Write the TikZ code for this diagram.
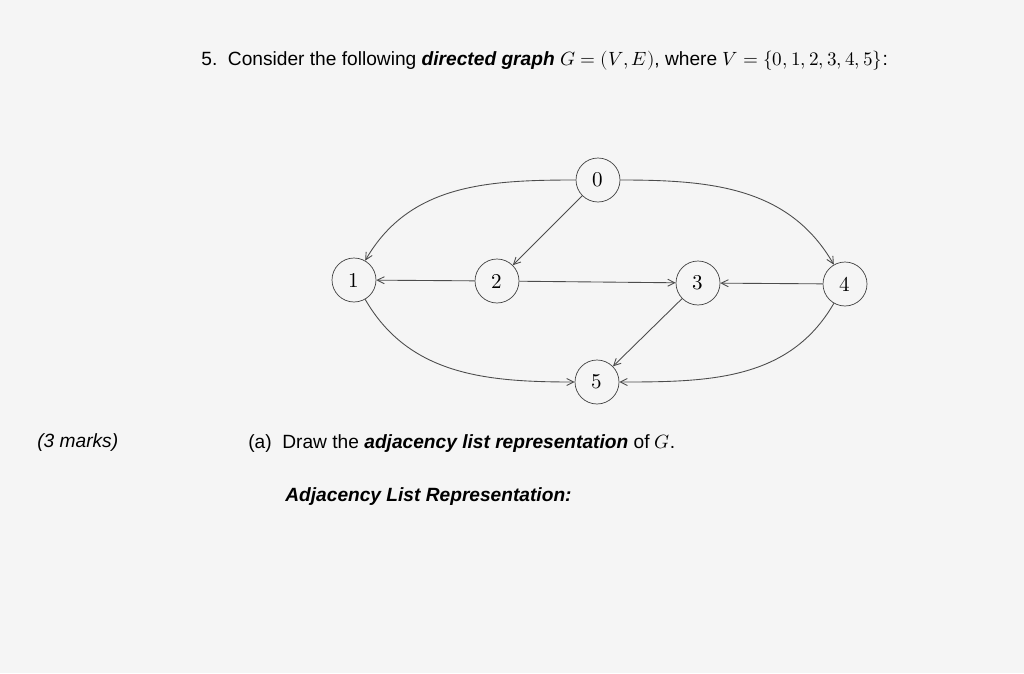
\documentclass[tikz,border=0pt]{standalone}
\usepackage{fontspec}
\setmainfont{Liberation Sans}
\usepackage{unicode-math}
\setmathfont{Latin Modern Math}
\usetikzlibrary{arrows.meta}
\begin{document}
\begin{tikzpicture}[x=0.02cm,y=-0.02cm,
  vtx/.style={draw=black!75,circle,minimum size=0.88cm,inner sep=0pt,font=\fontsize{12}{14}\selectfont},
  arc/.style={draw=black!70,line width=0.5pt,-{Straight Barb[length=4pt,width=4pt]}},
  txt/.style={anchor=west,inner sep=0pt,font=\fontsize{10.9}{13}\selectfont}]
\fill[gray!8] (0,0) rectangle (1024,673);
\useasboundingbox (0,0) rectangle (1024,673);
\node[vtx] (n0) at (598,180) {$0$};
\node[vtx] (n1) at (354,280) {$1$};
\node[vtx] (n2) at (497,281) {$2$};
\node[vtx] (n3) at (698,283) {$3$};
\node[vtx] (n4) at (845,284) {$4$};
\node[vtx] (n5) at (597,382) {$5$};
\draw[arc] (n0) to[out=180,in=60] (n1);
\draw[arc] (n0) to[out=0,in=120] (n4);
\draw[arc] (n0) -- (n2);
\draw[arc] (n2) -- (n1);
\draw[arc] (n2) -- (n3);
\draw[arc] (n4) -- (n3);
\draw[arc] (n3) -- (n5);
\draw[arc] (n1) to[out=-60,in=180] (n5);
\draw[arc] (n4) to[out=-120,in=0] (n5);
\node[txt] (title) at (201,61) {5.\ \ Consider the following \textbf{\textit{directed graph}} $G=(V,E)$, where $V=\{0,1,2,3,4,5\}$:};
\node[txt] (marks) at (37,443) {\textit{(3 marks)}};
\node[txt] (qa) at (248,444) {(a)\ \ Draw the \textbf{\textit{adjacency list representation}} of $G$.};
\node[txt] (adj) at (285,497) {\textbf{\textit{Adjacency List Representation:}}};
\end{tikzpicture}
\end{document}
